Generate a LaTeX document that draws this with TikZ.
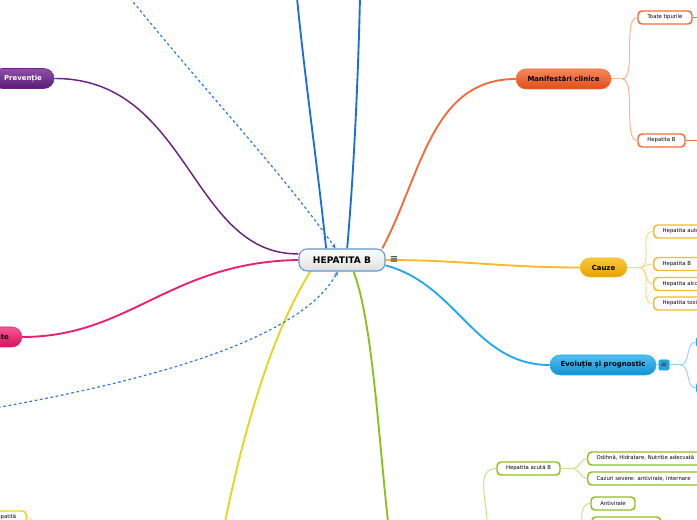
\documentclass[tikz,border=0pt]{standalone}
\usepackage{fontspec}
\setmainfont{DejaVu Sans}
\usepackage{xcolor}
\usetikzlibrary{backgrounds}
\usetikzlibrary{arrows.meta}

\definecolor{hepline}{HTML}{5A98D2}
\definecolor{manA}{HTML}{F6875A}
\definecolor{manB}{HTML}{DE4E1A}
\definecolor{manline}{HTML}{F26B3A}
\definecolor{mantwig}{HTML}{F9B595}
\definecolor{cauA}{HTML}{F9C83A}
\definecolor{cauB}{HTML}{E6A200}
\definecolor{cauline}{HTML}{F7B924}
\definecolor{cautwig}{HTML}{FAD98C}
\definecolor{evoA}{HTML}{4EC0F2}
\definecolor{evoB}{HTML}{1390D4}
\definecolor{evoline}{HTML}{22A9EA}
\definecolor{evotwig}{HTML}{98D4F2}
\definecolor{grnline}{HTML}{8CC11C}
\definecolor{grntwig}{HTML}{C6E08E}
\definecolor{yelline}{HTML}{E6D51E}
\definecolor{yeltwig}{HTML}{F2E88A}
\definecolor{pinkA}{HTML}{F45893}
\definecolor{pinkB}{HTML}{D5115D}
\definecolor{pinkline}{HTML}{EE1C72}
\definecolor{purA}{HTML}{8E50AA}
\definecolor{purB}{HTML}{5A1B76}
\definecolor{purline}{HTML}{6A2480}
\definecolor{topblue}{HTML}{1C6EDE}
\definecolor{dashblue}{HTML}{2C7BE0}

\begin{document}
\begin{tikzpicture}[x=0.75pt,y=0.75pt,
  topic/.style={rounded corners=7.5pt, minimum height=15pt, inner sep=0pt,
    font=\fontsize{5.2}{6}\selectfont\bfseries},
  leaf/.style={draw=#1, line width=1.1pt, fill=white, rounded corners=3pt,
    minimum height=9.75pt, inner sep=0pt, font=\fontsize{4}{5}\selectfont},
  wideleaf/.style={leaf=#1, anchor=west, inner xsep=6.75pt, text width=100pt, align=left},
  branch/.style={line width=1.4pt},
  twig/.style={line width=0.75pt},
  link/.style={dashblue, line width=0.9pt, dash pattern=on 2pt off 2pt,
    -{Stealth[length=3.5pt,width=3pt]}},
  ]
  \useasboundingbox (0,0) rectangle (697,-520);
  \clip (0,0) rectangle (697,-520);

  % central topic
  \node[draw=hepline, line width=0.8pt, rounded corners=6pt, top color=white,
    bottom color=gray!25, minimum width=64.5pt, minimum height=16.5pt, inner sep=0pt,
    font=\fontsize{6.8}{8}\selectfont\bfseries] (hep) at (342,-260) {HEPATITA B};
  \node[text=black!75, font=\fontsize{7.5}{7.5}\selectfont\bfseries, inner sep=0pt] (hepicon) at (394,-260) {≡};

  % main topics
  \node[topic, draw=manline, top color=manA, bottom color=manB, minimum width=71.25pt] (man) at (563.5,-79) {Manifestări clinice};
  \node[topic, draw=cauline, top color=cauA, bottom color=cauB, minimum width=35.25pt, minimum height=14.25pt] (cau) at (603.5,-267.5) {Cauze};
  \node[topic, draw=evoline, top color=evoA, bottom color=evoB, minimum width=79.5pt] (evo) at (603,-365) {Evoluție și prognostic};
  \node[draw=evoB, fill=evoline, rounded corners=1pt, minimum size=7.5pt, inner sep=0pt,
    text=black!80, font=\fontsize{6}{6}\selectfont] (evoicon) at (664,-365) {≡};
  \node[topic, draw=purline, top color=purA, bottom color=purB, text=white, minimum width=46.5pt] (pre) at (23,-78.5) {Prevenție};
  \node[topic, draw=pinkline, top color=pinkA, bottom color=pinkB, minimum width=35pt] (tes) at (-1.5,-337) {Teste};

  % sub topics
  \node[leaf=manline, minimum width=40.5pt] (toate) at (665,-17.5) {Toate tipurile};
  \node[leaf=manline, minimum width=35.25pt] (manhb) at (661.5,-140.5) {Hepatita B};
  \node[wideleaf=cauline] (caui) at (653,-231.5) {Hepatita autoimună};
  \node[wideleaf=cauline] (caub) at (653,-264) {Hepatita B};
  \node[wideleaf=cauline] (caua) at (653,-284) {Hepatita alcoolică};
  \node[wideleaf=cauline] (caut) at (653,-303.5) {Hepatita toxică};
  \node[leaf=evoline, anchor=west, minimum width=40pt] (evoa) at (696,-342) {};
  \node[leaf=evoline, anchor=west, minimum width=40pt] (evob) at (696,-388) {};
  \node[leaf=grnline, minimum width=47.25pt] (hab) at (528.5,-468.5) {Hepatita acută B};
  \node[wideleaf=grnline] (odi) at (587,-458.5) {Odihnă, Hidratare, Nutriție adecvată};
  \node[wideleaf=grnline] (caz) at (587,-478.5) {Cazuri severe: antivirale, internare};
  \node[leaf=grnline, minimum width=33pt] (anti) at (613,-503.5) {Antivirale};
  \node[leaf=grnline, anchor=west, minimum width=51.75pt] (grnx) at (591,-523.5) {};
  \node[leaf=yelline, anchor=east, inner xsep=7.5pt] (yelx) at (27,-517.5) {Hepatită};

  % free ends
  \coordinate (toateR) at (698,-17.5);
  \coordinate (manhbR) at (698,-140.5);
  \coordinate (topL) at (297,2);
  \coordinate (topR) at (360,2);
  \coordinate (grnbot) at (388,-522);
  \coordinate (yelbot) at (225,-522);
  \coordinate (habbot) at (487,-522);
  \coordinate (antibot) at (582,-530);
  \coordinate (linkA) at (130,2);
  \coordinate (linkB) at (-2,-407.5);
  \coordinate (mansplit) at (622,-79);
  \coordinate (causplit) at (639,-267.5);
  \coordinate (evosplit) at (680,-365);
  \coordinate (habsplit) at (573,-468.5);

  \begin{scope}[on background layer]
    % branches of the central topic
    \draw[branch, manline] (hep.16) to[out=62,in=180] (man.west);
    \draw[branch, cauline] (hep.east) to[out=0,in=180] (cau.west);
    \draw[branch, evoline] (hep.-7) to[out=-15,in=180] (evo.west);
    \draw[branch, grnline] (hep.-45) .. controls (372,-320) and (378,-430) .. (grnbot);
    \draw[branch, yelline] (hep.-160) .. controls (280,-320) and (250,-400) .. (yelbot);
    \draw[branch, pinkline] (hep.west) .. controls (170,-262) and (130,-337) .. (tes.east);
    \draw[line width=1.1pt, purline] (pre.east) .. controls (190,-78) and (190,-255) .. (hep.172);
    \draw[branch, topblue] (hep.144) .. controls (318,-170) and (305,-80) .. (topL);
    \draw[branch, topblue] (hep.66) .. controls (354,-170) and (358,-80) .. (topR);

    % links
    \draw[link] (linkA) .. controls (200,-85) and (280,-170) .. (hep.119);
    \draw[link] (linkB) .. controls (150,-380) and (300,-340) .. (hep.-110);

    % twigs
    \draw[twig, mantwig] (man.east) -- (mansplit);
    \draw[twig, mantwig] (mansplit) to[out=0,in=180,looseness=0.6] (toate.west);
    \draw[twig, mantwig] (mansplit) to[out=0,in=180,looseness=0.6] (manhb.west);
    \draw[branch, manline] (toate.east) -- (toateR);
    \draw[branch, manline] (manhb.east) -- (manhbR);
    \draw[twig, cautwig] (cau.east) -- (causplit);
    \foreach \leafname in {caui,caub,caua,caut}
      \draw[twig, cautwig] (causplit) to[out=0,in=180] (\leafname.west);
    \draw[twig, evotwig] (evo.east) -- (evoicon.west);
    \draw[twig, evotwig] (evoicon.east) -- (evosplit);
    \draw[twig, evotwig] (evosplit) to[out=0,in=180] (evoa.west);
    \draw[twig, evotwig] (evosplit) to[out=0,in=180] (evob.west);
    \draw[twig, grntwig] (hab.east) -- (habsplit);
    \draw[twig, grntwig] (habsplit) to[out=0,in=180] (odi.west);
    \draw[twig, grntwig] (habsplit) to[out=0,in=180] (caz.west);
    \draw[twig, grntwig] (hab.west) to[out=180,in=90] (habbot);
    \draw[twig, grntwig] (antibot) to[out=90,in=180] (anti.west);
    \draw[twig, grntwig] (antibot) to[out=90,in=180] (grnx.west);
    \draw[twig, yeltwig] (yelx.east) to[out=0,in=90] (33,-522);
  \end{scope}
\end{tikzpicture}
\end{document}
